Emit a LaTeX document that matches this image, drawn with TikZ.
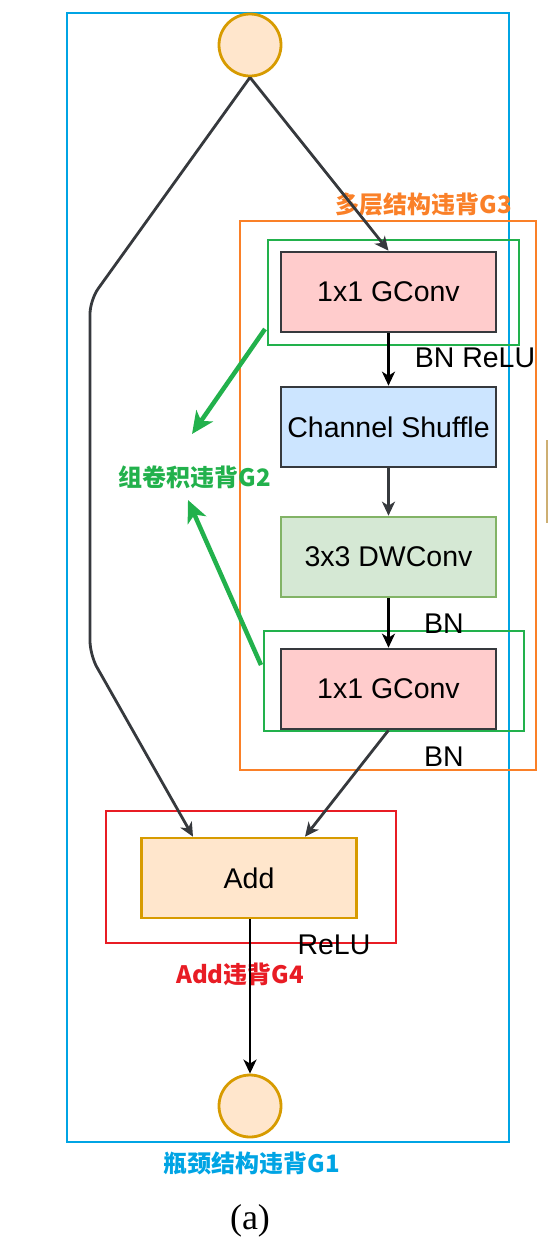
\documentclass[tikz,border=0pt]{standalone}
\usepackage{fontspec}
\setmainfont{Liberation Sans}
\newfontfamily\cjk{Noto Sans CJK SC}
\newfontfamily\capfont{Liberation Serif}
\usetikzlibrary{arrows.meta}
\definecolor{peachfill}{RGB}{255, 230, 204}
\definecolor{peachline}{RGB}{215, 155, 0}
\definecolor{pinkfill}{RGB}{255, 204, 204}
\definecolor{skyfill}{RGB}{204, 229, 255}
\definecolor{mintfill}{RGB}{213, 232, 212}
\definecolor{mintline}{RGB}{130, 179, 102}
\definecolor{darkline}{RGB}{54, 57, 61}
\definecolor{gonecyan}{RGB}{0, 164, 228}
\definecolor{gtwogreen}{RGB}{34, 177, 76}
\definecolor{gthreeorange}{RGB}{250, 128, 40}
\definecolor{gfourred}{RGB}{232, 28, 36}
\definecolor{tanline}{RGB}{205, 175, 115}

\begin{document}
\begin{tikzpicture}[x=1pt, y=-1pt,
    every node/.style={font=\fontsize{28.5}{34}\selectfont},
    layer/.style={draw=darkline, line width=2.6pt, minimum width=215pt, minimum height=80pt, inner sep=0pt},
    io/.style={circle, draw=peachline, fill=peachfill, line width=2.8pt, minimum size=62pt, inner sep=0pt},
    tag/.style={font=\cjk\bfseries\fontsize{24}{28}\selectfont, inner sep=0pt},
    flow/.style={line width=2.8pt, -{Stealth[length=14pt, width=13pt, inset=4pt]}},
    hint/.style={line width=4.5pt, gtwogreen, -{Stealth[length=22pt, width=20pt, inset=6pt]}}]
    \useasboundingbox (0,0) rectangle (548,1240);
    % frames of the four rules
    \draw[gonecyan,     line width=2.8pt] ( 67,  13) rectangle (509,1142);
    \draw[gthreeorange, line width=2.6pt] (240, 221) rectangle (536, 770);
    \draw[gtwogreen,    line width=2.2pt] (268, 240) rectangle (519, 345);
    \draw[gtwogreen,    line width=2.2pt] (264, 631) rectangle (524, 731);
    \draw[gfourred,     line width=2.2pt] (106, 811) rectangle (396, 943);
    \draw[tanline,      line width=1.6pt] (547, 440) -- (547, 523);
    % units
    \node[io]                                     (input)   at (250,  45) {};
    \node[layer, fill=pinkfill]                   (gconva)  at (388.5,292) {1x1 GConv};
    \node[layer, fill=skyfill]                    (shuffle) at (388.5,427) {Channel Shuffle};
    \node[layer, fill=mintfill, draw=mintline]    (dwconv)  at (388.5,557) {3x3 DWConv};
    \node[layer, fill=pinkfill]                   (gconvb)  at (388.5,689) {1x1 GConv};
    \node[layer, fill=peachfill, draw=peachline]  (add)     at (249, 878) {Add};
    \node[io]                                     (output)  at (250,1106) {};
    % small labels
    \node (bnrelu) at (475, 358) {BN ReLU};
    \node (bna)    at (444, 624) {BN};
    \node (bnb)    at (444, 757) {BN};
    \node (relu)   at (334, 945) {ReLU};
    \node[tag, gthreeorange] (gthree) at (424, 204) {多层结构违背G3};
    \node[tag, gtwogreen]    (gtwo)   at (195, 477) {组卷积违背G2};
    \node[tag, gfourred]     (gfour)  at (240, 974) {Add违背G4};
    \node[tag, gonecyan]     (gone)   at (252,1163) {瓶颈结构违背G1};
    \node[font=\capfont\fontsize{36}{40}\selectfont] (caption) at (250,1221) {(a)};
    % connectors
    \draw[flow, darkline] (input.south) -- (gconva.north);
    \draw[flow, darkline, rounded corners=14pt] (input.south) -- (90, 300) -- (90, 655) -- ([xshift=-56pt]add.north);
    \draw[flow, black]    (gconva) -- (shuffle);
    \draw[flow, darkline] (shuffle) -- (dwconv);
    \draw[flow, black]    (dwconv) -- (gconvb);
    \draw[flow, darkline] (gconvb.south) -- ([xshift=56pt]add.north);
    \draw[flow, black]    (add.south -| output.north) -- (output.north);
    % pointers to G2
    \coordinate (fromtop) at (265, 329);
    \coordinate (totop)   at (192, 434);
    \coordinate (frombot) at (261, 665);
    \coordinate (tobot)   at (188, 500);
    \draw[hint] (fromtop) -- (totop);
    \draw[hint] (frombot) -- (tobot);
\end{tikzpicture}
\end{document}
